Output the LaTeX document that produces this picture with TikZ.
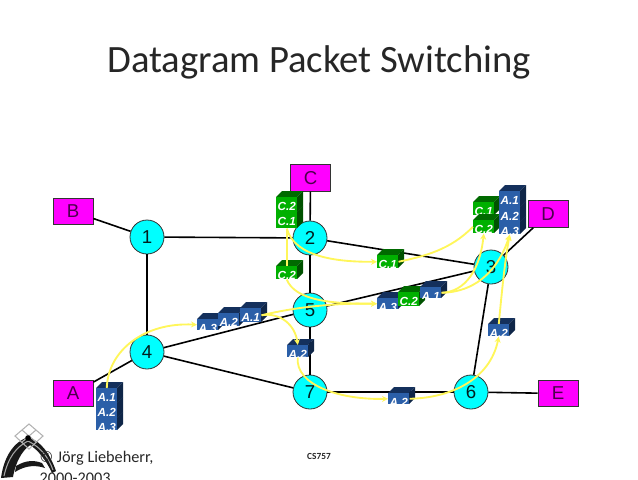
\documentclass[tikz,border=0pt]{standalone}
\usepackage{fontspec}
\setmainfont{Carlito}
\newfontfamily\arialfont{Liberation Sans}
\usetikzlibrary{arrows.meta}

\definecolor{nodecyan}{HTML}{00FFFF}
\definecolor{hostpink}{HTML}{FF00FF}
\definecolor{bluefront}{HTML}{2B5FA8}
\definecolor{bluetop}{HTML}{14305C}
\definecolor{blueside}{HTML}{0F2648}
\definecolor{greenfront}{HTML}{00B000}
\definecolor{greentop}{HTML}{006A00}
\definecolor{greenside}{HTML}{005200}
\definecolor{flowyellow}{HTML}{FFF65A}
\definecolor{inktext}{HTML}{262626}

\tikzset{
  switch node/.style={circle,draw=black!80,fill=nodecyan,line width=0.6pt,minimum size=25.5pt,inner sep=0pt,
                      text=black!20!teal!30!black,font=\arialfont\fontsize{14}{14}\selectfont},
  host node/.style={rectangle,draw=black!80,fill=hostpink,line width=0.6pt,minimum width=30pt,minimum height=20pt,inner sep=0pt,
                    text=violet!60!black,font=\arialfont\fontsize{14}{14}\selectfont},
  link/.style={line width=1.2pt,black},
  flow/.style={line width=1.4pt,flowyellow,-{Stealth[length=4.5pt,width=4.5pt]}},
  flow plain/.style={line width=1.4pt,flowyellow},
  pkt label/.style={anchor=center,text=white,inner sep=0pt,font=\arialfont\bfseries\itshape\fontsize{8.8}{8.8}\selectfont},
  blue pkt/.style={fill=bluefront},
  green pkt/.style={fill=greenfront}
}

% packet: name, x, y of the front face, height, blue/green, text
\newcommand{\packet}[6]{%
  \fill[#5top] (#2,#3) -- ++(6,-6) -- ++(21,0) -- ++(-6,6) -- cycle;
  \fill[#5side] (#2+21,#3) -- ++(6,-6) -- ++(0,#4) -- ++(-6,6) -- cycle;
  \node[#5 pkt,anchor=north west,minimum width=15.75pt,minimum height=#4*0.75pt,inner sep=0pt,
        path picture={\node[pkt label] at ([yshift=-6.8pt]path picture bounding box.north) {#6};}]
        (#1) at (#2,#3) {};
}

\begin{document}
\begin{tikzpicture}[x=0.75pt,y=-0.75pt]
  \useasboundingbox (0,0) rectangle (638,479);

  % logo
  \fill[black!90] (1,478) .. controls (4,456) and (14,442) .. (28,437) -- (34,443) .. controls (24,447) and (16,460) .. (13,477) -- cycle;
  \fill[black!90] (28,437) .. controls (41,441) and (50,454) .. (56,471) -- (52,473) .. controls (46,460) and (38,450) .. (30,445) -- cycle;
  \fill[black!90] (16,466) .. controls (26,460) and (34,460) .. (42,463) -- (45,468) .. controls (36,465) and (26,465) .. (15,472) -- cycle;
  \draw[black!35,line width=0.8pt] (4,476) .. controls (8,458) and (16,447) .. (28,441) .. controls (40,447) and (48,456) .. (53,470);
  \draw[black!30,line width=0.8pt] (29,424) -- (15,436) -- (29,449) -- (43,436) -- cycle;
  \draw[black!30,line width=0.8pt] (22,430) -- (36,442) (36,430) -- (22,442);
  \fill[black] (28,438) circle (2.8);

  \node[font=\fontsize{29}{29}\selectfont,text=inktext] (title) at (319,62) {Datagram Packet Switching};

  \node[switch node] (1) at (147,237) {1};
  \node[switch node] (2) at (310,238) {2};
  \node[switch node] (3) at (491,267) {3};
  \node[switch node] (4) at (147,352) {4};
  \node[switch node] (5) at (310,310) {5};
  \node[switch node] (6) at (471,392) {6};
  \node[switch node] (7) at (310,392) {7};

  \node[host node] (A) at (73,393.5) {A};
  \node[host node] (B) at (73,211.5) {B};
  \node[host node] (C) at (310.5,178) {C};
  \node[host node] (D) at (548,214) {D};
  \node[host node] (E) at (558,393.5) {E};

  \path[link]
    (B) edge (1)
    (1) edge (2)
        edge (4)
    (2) edge (C)
        edge (5)
        edge (3)
    (3) edge (D)
        edge (5)
        edge (6)
    (4) edge (A)
        edge (5)
        edge (7)
    (5) edge (7)
    (6) edge (7)
        edge (E);

  \packet{pa3}{96}{418}{12}{blue}{A.3}
  \packet{pa2}{96}{403}{15}{blue}{A.2}
  \packet{pa1}{96}{388}{15}{blue}{A.1}
  \packet{qa3}{197}{319}{11}{blue}{A.3}
  \packet{qa2}{218}{313}{13}{blue}{A.2}
  \packet{qa1}{240}{308}{14}{blue}{A.1}
  \packet{ra2}{287}{345}{12}{blue}{A.2}
  \packet{sa2}{388}{393}{11}{blue}{A.2}
  \packet{ta3}{377}{298}{11}{blue}{A.3}
  \packet{tc2}{398}{292}{14}{green}{C.2}
  \packet{ta1}{420}{287}{11}{blue}{A.1}
  \packet{ua2}{488}{324}{12}{blue}{A.2}
  \packet{lc1}{473}{202}{13}{green}{C.1}
  \packet{lc2}{473}{220}{13}{green}{C.2}
  \packet{ka3}{499}{222}{12}{blue}{A.3}
  \packet{ka2}{499}{207}{15}{blue}{A.2}
  \packet{ka1}{499}{191}{16}{blue}{A.1}
  \packet{mc1}{276}{212}{16}{green}{C.1}
  \packet{mc2}{276}{197}{15}{green}{C.2}
  \packet{nc2}{276}{266}{13}{green}{C.2}
  \packet{oc1}{377}{255}{13}{green}{C.1}

  % paths of the packets
  \draw[flow] (pa1.north) .. controls (108,350) and (145,322) .. (qa3.west);
  \draw[flow] (qa1.east) .. controls (300,306) and (340,303) .. (ta3.west);
  \draw[flow] (qa1.east) .. controls (280,312) and (295,325) .. (ra2.north);
  \draw[flow] (ra2.south) .. controls (295,385) and (340,400) .. (sa2.west);
  \draw[flow] (sa2.east) .. controls (450,398) and (490,380) .. (ua2.south);
  \draw[flow] (ua2.north) .. controls (502,290) and (505,260) .. (ka3.south);
  \draw[flow] (ta1.east) .. controls (465,292) and (480,270) .. (lc2.south);
  \draw[flow] (ta1.east) .. controls (480,292) and (500,265) .. (ka3.south);
  \draw[flow] (nc2.south) .. controls (295,300) and (330,304) .. (ta3.west);
  \draw[flow plain] (nc2.north) -- (mc1.south);
  \draw[flow] (mc1.south) .. controls (295,258) and (340,262) .. (oc1.west);
  \draw[flow plain] (oc1.east) .. controls (425,256) and (450,250) .. (lc2.west);

  \node[font=\fontsize{12.2}{12.2}\selectfont,text=inktext,anchor=west] (copy1) at (35,458) {© Jörg Liebeherr,};
  \node[font=\fontsize{12.2}{12.2}\selectfont,text=inktext,anchor=west] (copy2) at (35,478) {2000-2003};
  \node[font=\bfseries\fontsize{7}{7}\selectfont,text=inktext] (course) at (319,456) {CS757};
\end{tikzpicture}
\end{document}
